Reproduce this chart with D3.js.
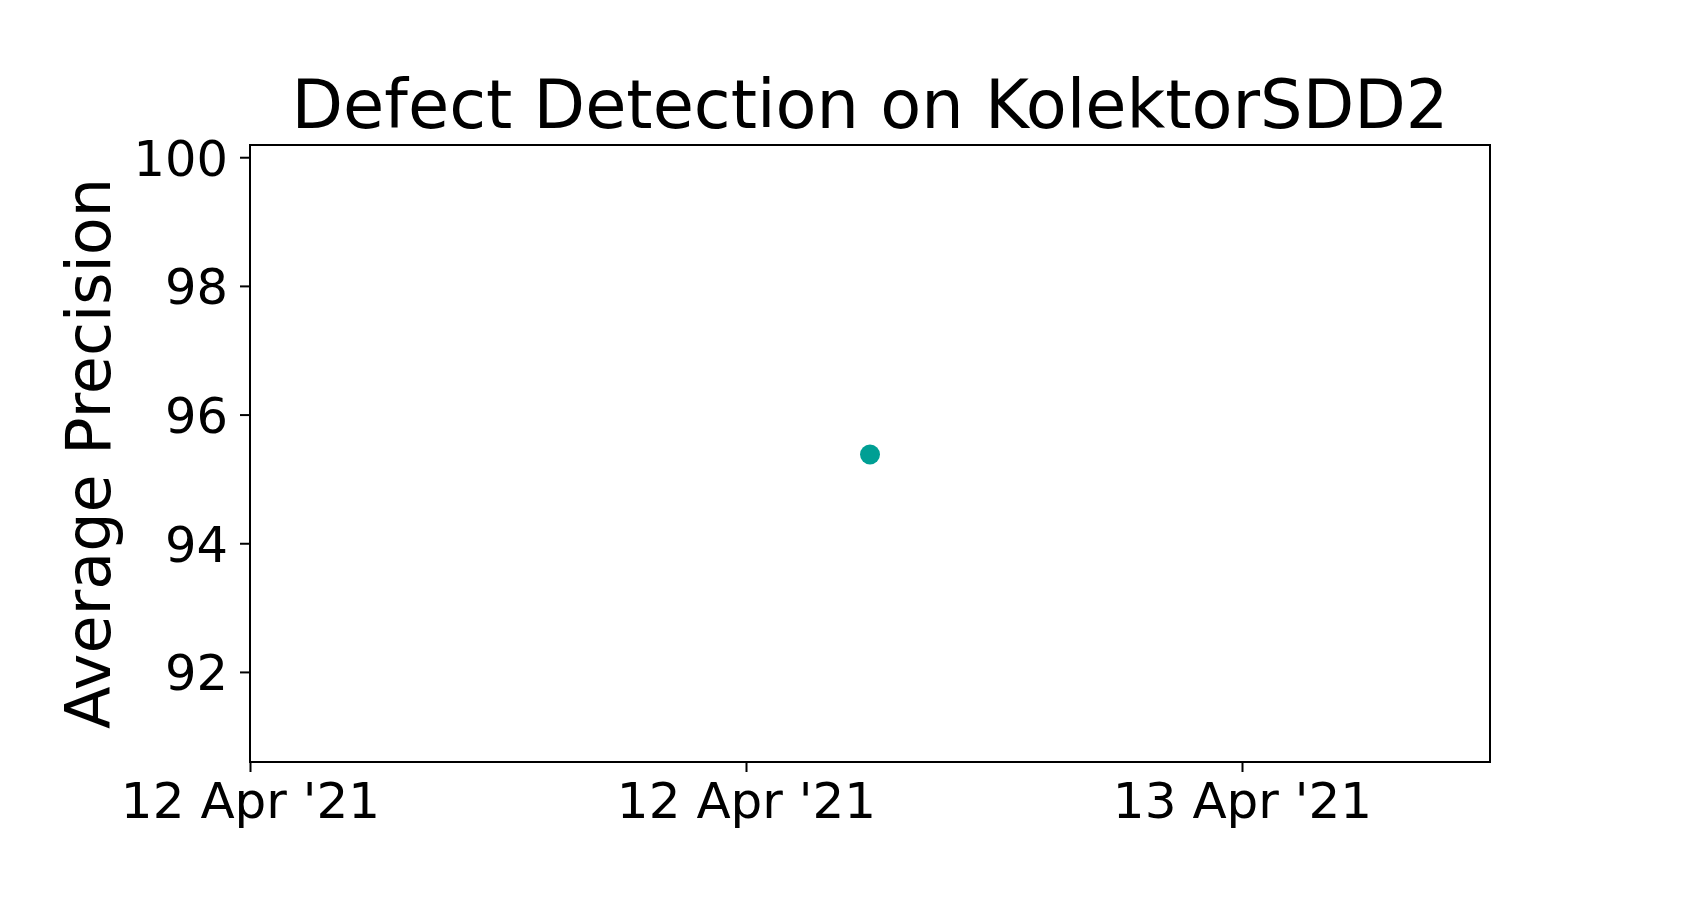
<!DOCTYPE html>
<html><head><meta charset="utf-8">
<script src="https://cdn.jsdelivr.net/npm/d3@7"></script>
<style>body{margin:0;background:#fff}svg{display:block}text{font-family:"DejaVu Sans",sans-serif;fill:#000}</style>
</head><body>
<script>
const title = "Defect Detection on KolektorSDD2";
const yLabel = "Average Precision";
const dates = ["2021-04-12T15:00:00"];
const values = [95.38];
const xTicks = ["2021-04-12T00:00:00","2021-04-12T12:00:00","2021-04-13T00:00:00"];
const xDomain = ["2021-04-12T00:00:00","2021-04-13T06:00:00"];
const yTicks = [92,94,96,98,100];
const yDomain = [90.6,100.19];

const W=1700,H=900, L=250,R=1490,T=145,B=762;
const parse = d3.isoParse;
const svg = d3.select("body").append("svg").attr("width",W).attr("height",H);
const x = d3.scaleTime().domain(xDomain.map(parse)).range([L,R]);
const y = d3.scaleLinear().domain(yDomain).range([B,T]);

const xa = svg.append("g").attr("transform",`translate(0,${B})`)
  .call(d3.axisBottom(x).tickValues(xTicks.map(parse)).tickFormat(d3.timeFormat("%d %b '%y")).tickSize(10).tickSizeOuter(0));
xa.selectAll("text").attr("font-size",50).attr("dy",0).attr("y",56);
const ya = svg.append("g").attr("transform",`translate(${L},0)`)
  .call(d3.axisLeft(y).tickValues(yTicks).tickSize(10).tickSizeOuter(0));
ya.selectAll("text").attr("font-size",49.5).attr("x",-22).attr("dy","0.36em");
svg.selectAll(".domain").remove();
svg.selectAll(".tick line").attr("stroke","#000").attr("stroke-width",2);
svg.selectAll(".tick text").attr("font-family","DejaVu Sans").attr("fill","#000");

svg.append("rect").attr("x",L).attr("y",T).attr("width",R-L).attr("height",B-T)
  .attr("fill","none").attr("stroke","#000").attr("stroke-width",2);

svg.selectAll("circle.pt").data(values).join("circle").attr("class","pt")
  .attr("cx",(d,i)=>x(parse(dates[i]))).attr("cy",d=>y(d)).attr("r",10).attr("fill","#009f94");

svg.append("text").attr("x",(L+R)/2).attr("y",128).attr("text-anchor","middle").attr("font-size",67).text(title);
svg.append("text").attr("transform",`translate(110,${(T+B)/2}) rotate(-90)`).attr("text-anchor","middle").attr("font-size",62).text(yLabel);
</script>
</body></html>
